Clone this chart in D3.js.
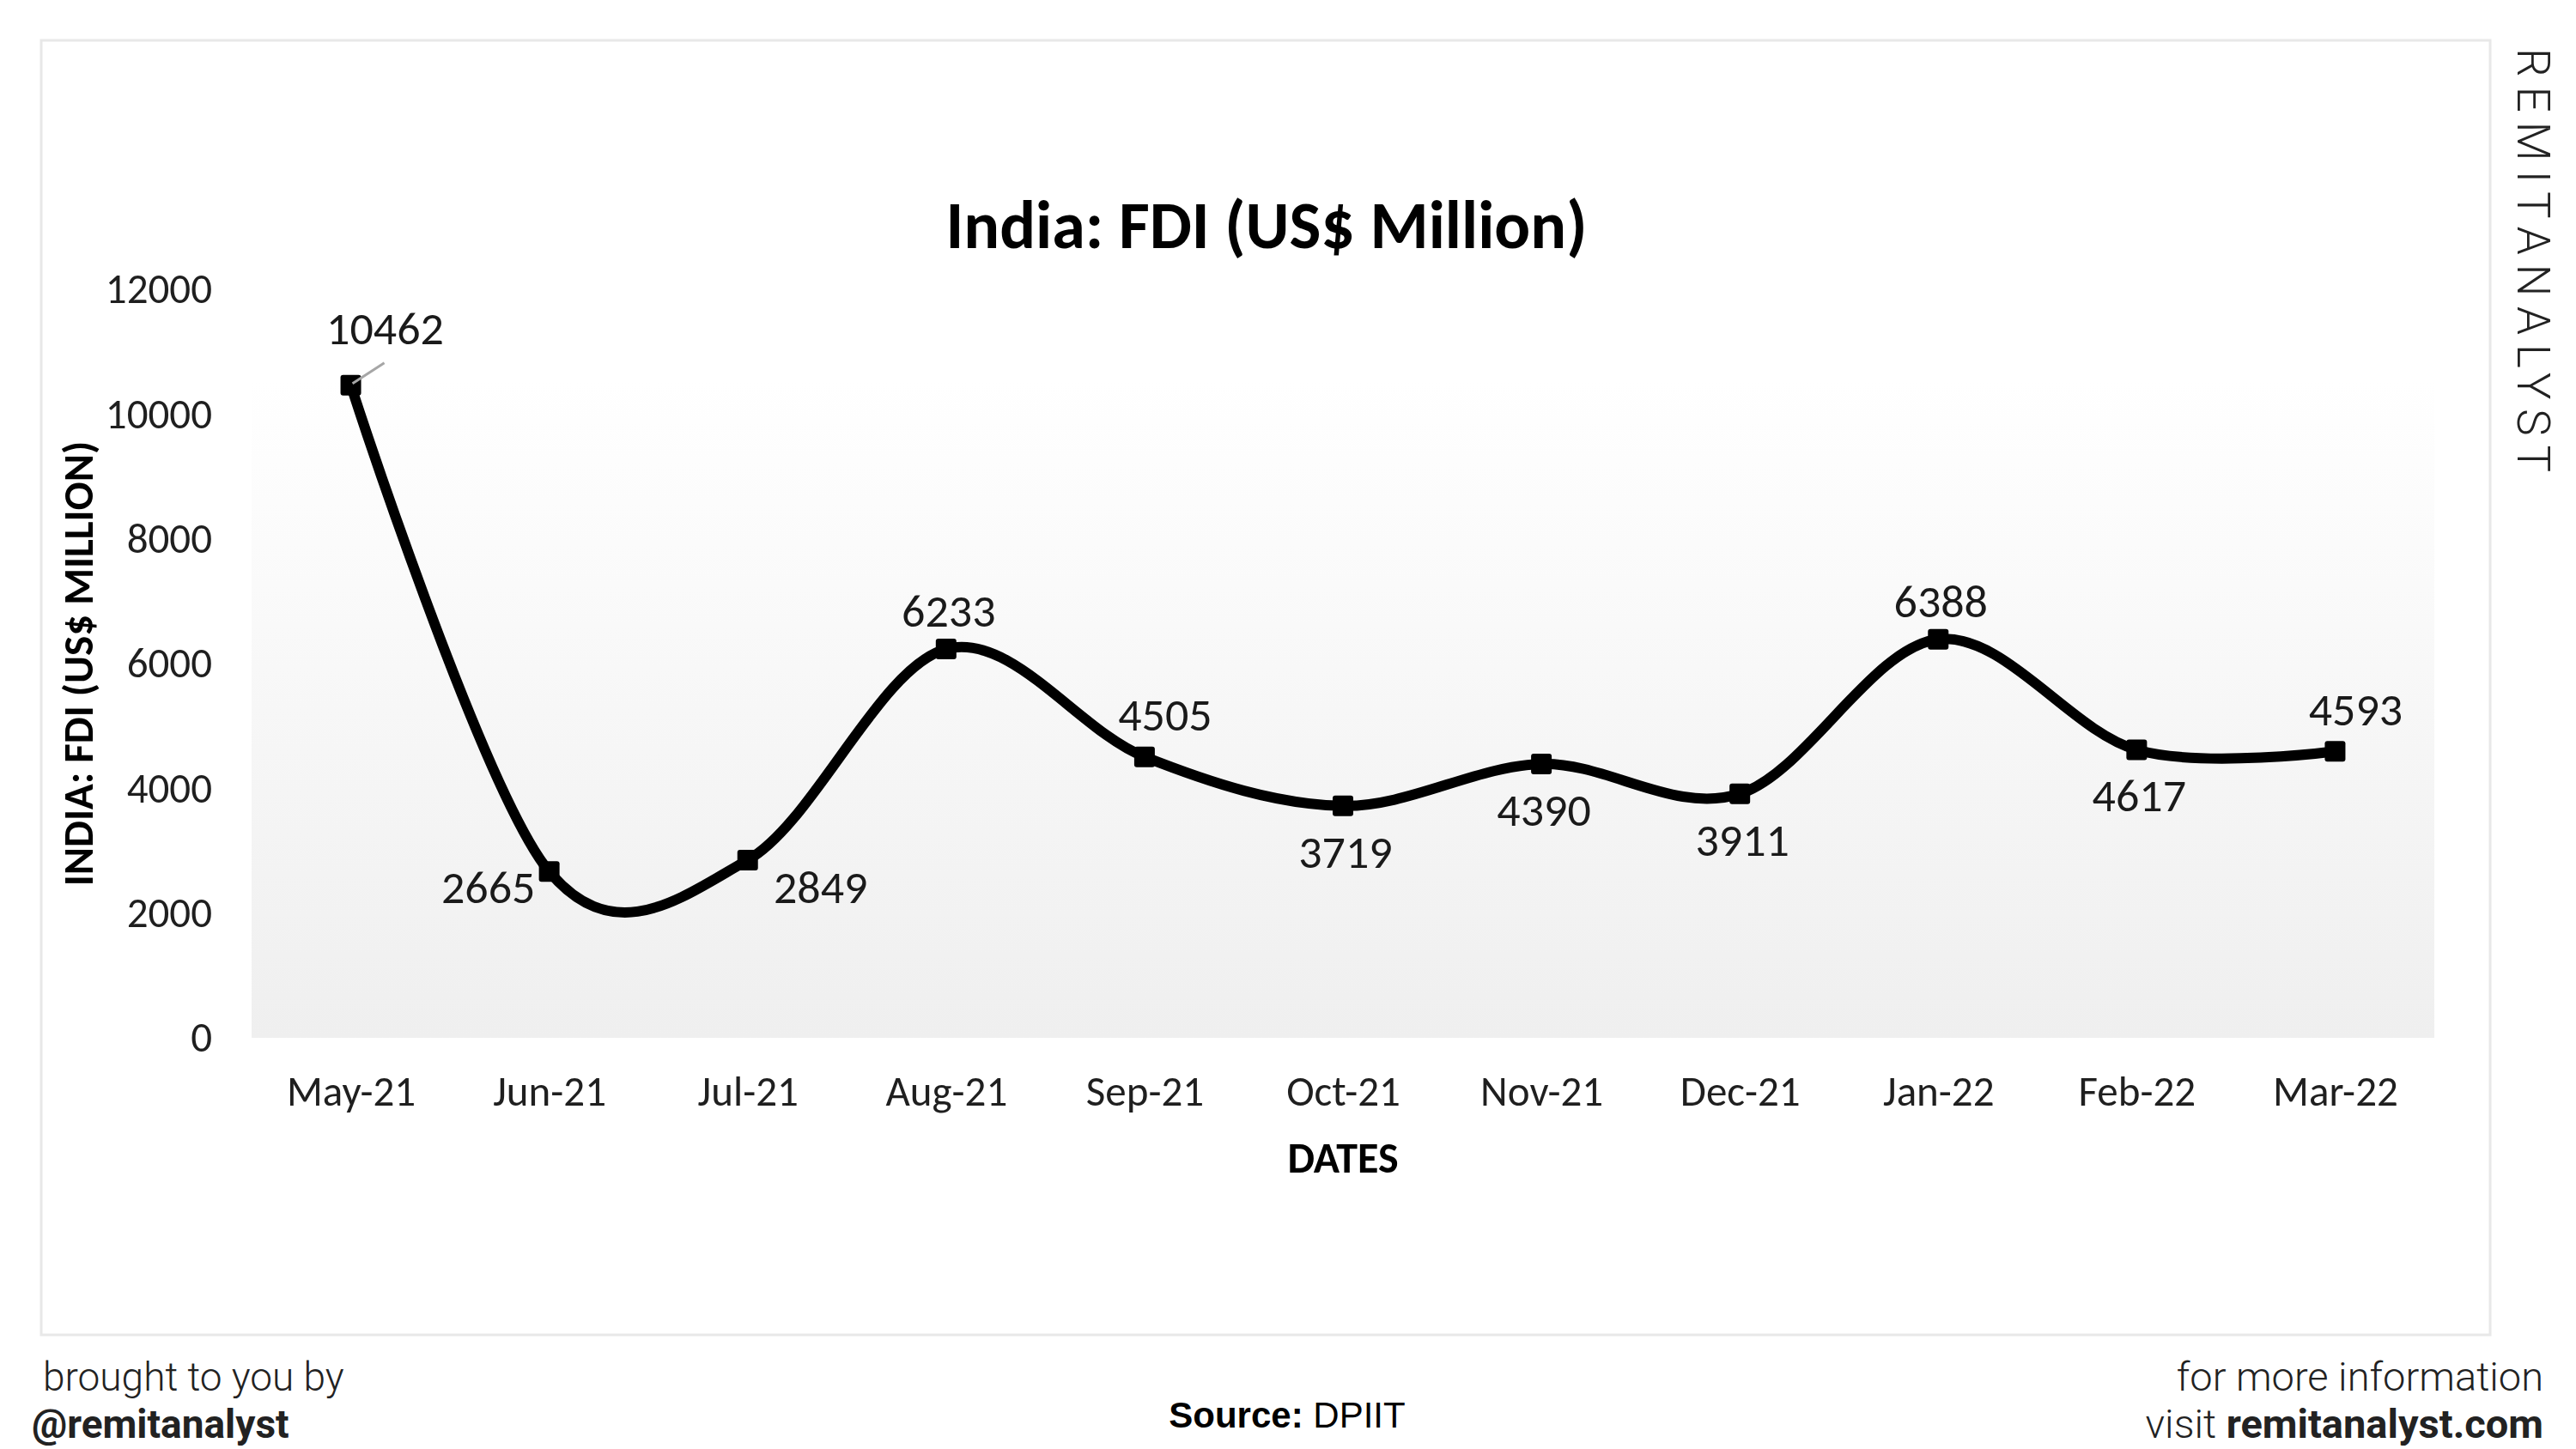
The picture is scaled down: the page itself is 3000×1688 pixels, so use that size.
<!DOCTYPE html>
<html lang="en">
<head>
<meta charset="utf-8">
<title>India FDI</title>
<script src="https://d3js.org/d3.v7.min.js"></script>
<style>
  body { margin: 0; background: #fff; }
  svg { display: block; }
</style>
</head>
<body>
<div id="chart"></div>
<script>
// data
const months = ["May-21", "Jun-21", "Jul-21", "Aug-21", "Sep-21", "Oct-21",
                "Nov-21", "Dec-21", "Jan-22", "Feb-22", "Mar-22"];
const fdi = [10462, 2665, 2849, 6233, 4505, 3719, 4390, 3911, 6388, 4617, 4593];
const yTicks = [0, 2000, 4000, 6000, 8000, 10000, 12000];
const labelSide = ["leader", "left", "right", "above", "aboveRight", "below",
                   "below", "below", "above", "below", "aboveRight"];

const data = months.map((m, i) => ({ month: m, value: fdi[i], side: labelSide[i] }));

const width = 3000, height = 1688;
const plot = { left: 293, right: 2835, top: 337, bottom: 1209 };
const chartFont = "Carlito, 'Open Sans', sans-serif";

const svg = d3.select("#chart").append("svg")
  .attr("width", width).attr("height", height)
  .attr("viewBox", [0, 0, width, height]);

svg.append("rect").attr("width", width).attr("height", height).attr("fill", "#fff");

// outer chart box
svg.append("rect")
  .attr("x", 48).attr("y", 47).attr("width", 2852).attr("height", 1508)
  .attr("fill", "#fff").attr("stroke", "#e8e8e8").attr("stroke-width", 3);

const x = d3.scalePoint().domain(months).range([plot.left, plot.right]).padding(0.5);
const y = d3.scaleLinear().domain([0, 12000]).range([plot.bottom, plot.top]);

// plot area gradient
const grad = svg.append("defs").append("linearGradient")
  .attr("id", "plotGrad").attr("x1", 0).attr("y1", 0).attr("x2", 0).attr("y2", 1);
grad.append("stop").attr("offset", "0%").attr("stop-color", "#ffffff");
grad.append("stop").attr("offset", "12%").attr("stop-color", "#ffffff");
grad.append("stop").attr("offset", "100%").attr("stop-color", "#efefef");

svg.append("rect")
  .attr("x", plot.left).attr("y", plot.top)
  .attr("width", plot.right - plot.left).attr("height", plot.bottom - plot.top)
  .attr("fill", "url(#plotGrad)");

// axes
const yAxis = g => g
  .attr("transform", `translate(${plot.left},0)`)
  .call(d3.axisLeft(y).tickValues(yTicks).tickFormat(d3.format("d")).tickSize(0).tickPadding(46))
  .call(g => g.select(".domain").remove());

const xAxis = g => g
  .attr("transform", `translate(0,${plot.bottom})`)
  .call(d3.axisBottom(x).tickSize(0).tickPadding(44))
  .call(g => g.select(".domain").remove());

svg.append("g").call(yAxis);
svg.append("g").call(xAxis);

svg.selectAll(".tick text")
  .attr("font-family", chartFont).attr("font-size", 49).attr("fill", "#1f1f1f");

// titles
svg.append("text")
  .attr("x", 1475).attr("y", 289)
  .attr("text-anchor", "middle")
  .attr("font-family", chartFont).attr("font-weight", "bold").attr("font-size", 78)
  .attr("fill", "#000")
  .text("India: FDI (US$ Million)");

svg.append("text")
  .attr("transform", `translate(108,${(plot.top + plot.bottom) / 2}) rotate(-90)`)
  .attr("text-anchor", "middle")
  .attr("font-family", chartFont).attr("font-weight", "bold").attr("font-size", 49)
  .attr("fill", "#000")
  .text("INDIA: FDI (US$ MILLION)");

svg.append("text")
  .attr("x", (plot.left + plot.right) / 2).attr("y", 1366)
  .attr("text-anchor", "middle")
  .attr("font-family", chartFont).attr("font-weight", "bold").attr("font-size", 50)
  .attr("fill", "#000")
  .text("DATES");

// line
const line = d3.line()
  .x(d => x(d.month))
  .y(d => y(d.value))
  .curve(d3.curveCardinal.tension(0));

svg.append("path")
  .datum(data)
  .attr("d", line)
  .attr("fill", "none")
  .attr("stroke", "#000")
  .attr("stroke-width", 12)
  .attr("stroke-linejoin", "round")
  .attr("stroke-linecap", "round");

// markers
svg.append("g").selectAll("rect")
  .data(data)
  .join("rect")
    .attr("x", d => x(d.month) - 12)
    .attr("y", d => y(d.value) - 12)
    .attr("width", 24).attr("height", 24)
    .attr("rx", 3)
    .attr("fill", "#000");

// data labels
const offsets = {
  leader: [40, -66],
  left: [-71, 19],
  right: [85, 32],
  above: [3, -44],
  aboveRight: [24, -48],
  below: [3, 54]
};

// leader line for the first point
const first = data[0];
svg.append("line")
  .attr("x1", x(first.month) + 2).attr("y1", y(first.value) - 2)
  .attr("x2", x(first.month) + 39).attr("y2", y(first.value) - 26)
  .attr("stroke", "#a6a6a6").attr("stroke-width", 3);

svg.append("g").selectAll("text")
  .data(data)
  .join("text")
    .attr("x", d => x(d.month) + offsets[d.side][0])
    .attr("y", d => y(d.value) + offsets[d.side][1])
    .attr("dy", "0.33em")
    .attr("text-anchor", "middle")
    .attr("font-family", chartFont).attr("font-size", 54)
    .attr("fill", "#1a1a1a")
    .text(d => d.value);

// brand on the right
svg.append("text")
  .attr("transform", "translate(2932,56) rotate(90)")
  .attr("font-family", "Roboto, 'Liberation Sans', sans-serif")
  .attr("font-weight", 300).attr("font-size", 53)
  .attr("letter-spacing", 11)
  .attr("fill", "#222")
  .text("REMITANALYST");

// footer
const footFont = "Roboto, 'Liberation Sans', sans-serif";
svg.append("text")
  .attr("x", 50).attr("y", 1620)
  .attr("font-family", footFont).attr("font-weight", 300).attr("font-size", 46)
  .attr("fill", "#222")
  .text("brought to you by");

svg.append("text")
  .attr("x", 37).attr("y", 1675)
  .attr("font-family", footFont).attr("font-weight", 700).attr("font-size", 46)
  .attr("fill", "#222")
  .text("@remitanalyst");

const src = svg.append("text")
  .attr("x", 1499).attr("y", 1663)
  .attr("text-anchor", "middle")
  .attr("font-family", "'Liberation Sans', Arial, sans-serif").attr("font-size", 42)
  .attr("fill", "#000");
src.append("tspan").attr("font-weight", "bold").text("Source:");
src.append("tspan").text(" DPIIT");

svg.append("text")
  .attr("x", 2962).attr("y", 1620)
  .attr("text-anchor", "end")
  .attr("font-family", footFont).attr("font-weight", 300).attr("font-size", 47)
  .attr("fill", "#222")
  .text("for more information");

const visit = svg.append("text")
  .attr("x", 2962).attr("y", 1675)
  .attr("text-anchor", "end")
  .attr("font-family", footFont).attr("font-size", 47)
  .attr("fill", "#222");
visit.append("tspan").attr("font-weight", 300).text("visit ");
visit.append("tspan").attr("font-weight", 700).text("remitanalyst.com");
</script>
</body>
</html>
